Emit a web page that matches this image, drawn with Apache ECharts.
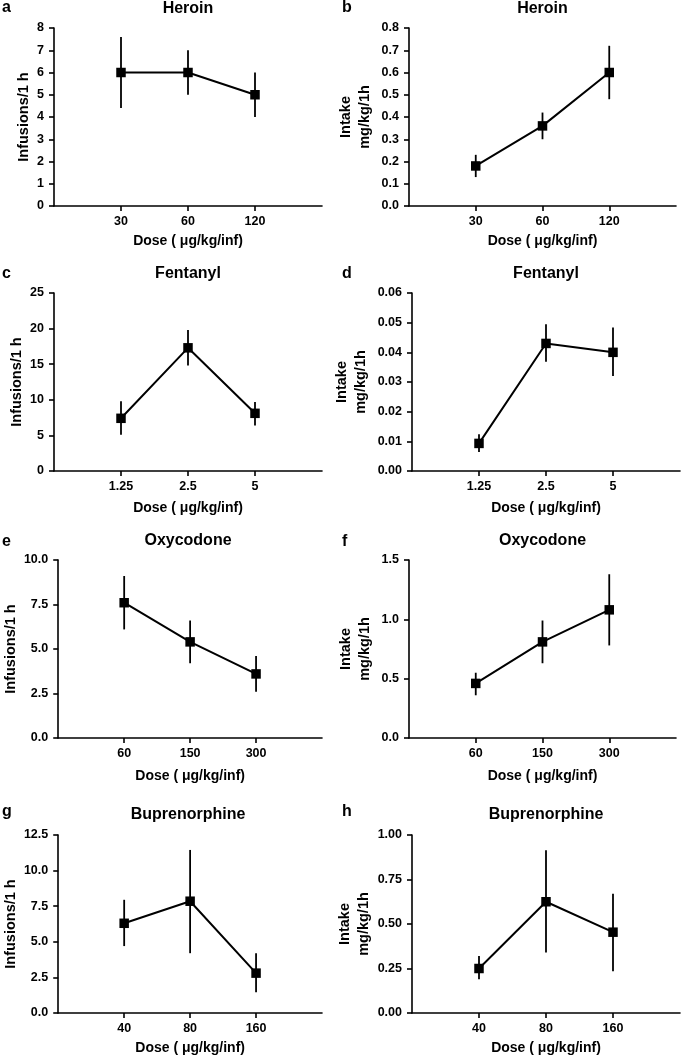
<!DOCTYPE html>
<html>
<head>
<meta charset="utf-8">
<script src="https://cdn.jsdelivr.net/npm/echarts@6/dist/echarts.min.js"></script>
<style>
html,body{margin:0;padding:0;background:#fff;}
#chart{width:683px;height:1061px;}
</style>
</head>
<body>
<div id="chart"></div>
<script>
// ---- Data ----
const heroinDoses = ['30', '60', '120'];
const fentanylDoses = ['1.25', '2.5', '5'];
const oxycodoneDoses = ['60', '150', '300'];
const buprenorphineDoses = ['40', '80', '160'];

const heroinInf = [6.0, 6.0, 5.0];
const heroinInfLo = [4.4, 5.0, 4.0];
const heroinInfHi = [7.6, 7.0, 6.0];

const heroinIntake = [0.18, 0.36, 0.60];
const heroinIntakeLo = [0.13, 0.30, 0.48];
const heroinIntakeHi = [0.23, 0.42, 0.72];

const fentanylInf = [7.4, 17.3, 8.1];
const fentanylInfLo = [5.1, 14.8, 6.4];
const fentanylInfHi = [9.8, 19.8, 9.7];

const fentanylIntake = [0.0093, 0.043, 0.040];
const fentanylIntakeLo = [0.0064, 0.0368, 0.032];
const fentanylIntakeHi = [0.0124, 0.0495, 0.0484];

const oxycodoneInf = [7.6, 5.4, 3.6];
const oxycodoneInfLo = [6.1, 4.2, 2.6];
const oxycodoneInfHi = [9.1, 6.6, 4.6];

const oxycodoneIntake = [0.46, 0.81, 1.08];
const oxycodoneIntakeLo = [0.36, 0.63, 0.78];
const oxycodoneIntakeHi = [0.55, 0.99, 1.38];

const buprenorphineInf = [6.3, 7.85, 2.8];
const buprenorphineInfLo = [4.7, 4.2, 1.45];
const buprenorphineInfHi = [7.95, 11.45, 4.2];

const buprenorphineIntake = [0.25, 0.625, 0.454];
const buprenorphineIntakeLo = [0.19, 0.34, 0.235];
const buprenorphineIntakeHi = [0.32, 0.915, 0.67];

const titles = ['Heroin', 'Heroin', 'Fentanyl', 'Fentanyl', 'Oxycodone', 'Oxycodone', 'Buprenorphine', 'Buprenorphine'];
const letters = ['a', 'b', 'c', 'd', 'e', 'f', 'g', 'h'];
const yNames = ['Infusions/1 h', 'Intake\nmg/kg/1h'];
const xName = 'Dose ( \u03bcg/kg/inf)';

// ---- Panel setup ----
const FONT = '"Liberation Sans", Arial, sans-serif';
const panels = [
  {doses: heroinDoses, v: heroinInf, lo: heroinInfLo, hi: heroinInfHi, min: 0, max: 8, step: 1, dec: 0},
  {doses: heroinDoses, v: heroinIntake, lo: heroinIntakeLo, hi: heroinIntakeHi, min: 0, max: 0.8, step: 0.1, dec: 1},
  {doses: fentanylDoses, v: fentanylInf, lo: fentanylInfLo, hi: fentanylInfHi, min: 0, max: 25, step: 5, dec: 0},
  {doses: fentanylDoses, v: fentanylIntake, lo: fentanylIntakeLo, hi: fentanylIntakeHi, min: 0, max: 0.06, step: 0.01, dec: 2},
  {doses: oxycodoneDoses, v: oxycodoneInf, lo: oxycodoneInfLo, hi: oxycodoneInfHi, min: 0, max: 10, step: 2.5, dec: 1},
  {doses: oxycodoneDoses, v: oxycodoneIntake, lo: oxycodoneIntakeLo, hi: oxycodoneIntakeHi, min: 0, max: 1.5, step: 0.5, dec: 1},
  {doses: buprenorphineDoses, v: buprenorphineInf, lo: buprenorphineInfLo, hi: buprenorphineInfHi, min: 0, max: 12.5, step: 2.5, dec: 1},
  {doses: buprenorphineDoses, v: buprenorphineIntake, lo: buprenorphineIntakeLo, hi: buprenorphineIntakeHi, min: 0, max: 1.0, step: 0.25, dec: 2}
];

// layout
const rowTop = [28, 293, 560, 835];
const plotH = 178;
const colLeft = [[54, 409], [54, 412], [54, 409], [54, 412]];
const yNameGap = [19, 35, 21, 42, 27, 35, 32, 38];
const xNameGap = [28, 30, 31, 28];
const titleY = [9, 274, 541, 815];
const letterY = [8, 274, 542, 812];

const grids = [], xAxes = [], yAxes = [], series = [], graphics = [];

panels.forEach((p, i) => {
  const row = Math.floor(i / 2), col = i % 2;
  const left = colLeft[row][col];
  const w = col === 0 ? 268 : (left === 412 ? 268 : 267);
  grids.push({left: left, top: rowTop[row], width: w, height: plotH});
  xAxes.push({
    type: 'category', gridIndex: i, boundaryGap: false,
    data: [''].concat(p.doses).concat(['']),
    axisLine: {lineStyle: {color: '#000', width: 1.6}},
    axisTick: {show: true, length: 5, lineStyle: {color: '#000', width: 1.6},
      interval: function (idx) { return idx >= 1 && idx <= 3; }},
    axisLabel: {color: '#000', fontFamily: FONT, fontWeight: 'bold', fontSize: 12.5, margin: 9, interval: 0},
    splitLine: {show: false},
    name: xName, nameLocation: 'middle', nameGap: xNameGap[row],
    nameTextStyle: {color: '#000', fontFamily: FONT, fontWeight: 'bold', fontSize: 14}
  });
  yAxes.push({
    type: 'value', gridIndex: i, min: p.min, max: p.max, interval: p.step,
    axisLine: {show: true, lineStyle: {color: '#000', width: 1.6}},
    axisTick: {show: true, length: 5, lineStyle: {color: '#000', width: 1.6}},
    axisLabel: {color: '#000', fontFamily: FONT, fontWeight: 'bold', fontSize: 12.5, margin: 10,
      formatter: function (val) { return Number(val).toFixed(p.dec); }},
    splitLine: {show: false},
    name: yNames[col], nameLocation: 'middle', nameGap: yNameGap[i], nameRotate: 90,
    nameTextStyle: {color: '#000', fontFamily: FONT, fontWeight: 'bold', fontSize: 14.5, lineHeight: 19, align: 'center'}
  });
  // error bars (mean ± SEM)
  series.push({
    type: 'custom', xAxisIndex: i, yAxisIndex: i, silent: true, z: 2,
    data: p.doses.map((d, k) => [k + 1, p.lo[k], p.hi[k]]),
    renderItem: function (params, api) {
      const a = api.coord([api.value(0), api.value(1)]);
      const b = api.coord([api.value(0), api.value(2)]);
      return {type: 'line', shape: {x1: a[0], y1: a[1], x2: b[0], y2: b[1]},
        style: {stroke: '#000', lineWidth: 1.8}};
    }
  });
  // mean line
  series.push({
    type: 'line', xAxisIndex: i, yAxisIndex: i, z: 3,
    data: ['-'].concat(p.v).concat(['-']),
    symbol: 'rect', symbolSize: 9.5, showSymbol: true,
    lineStyle: {color: '#000', width: 2},
    itemStyle: {color: '#000'},
    animation: false, silent: true
  });
  graphics.push({
    type: 'text', x: left + w / 2, y: titleY[row],
    style: {text: titles[i], fill: '#000', font: 'bold 16px ' + FONT, textAlign: 'center', textVerticalAlign: 'middle'}
  });
  graphics.push({
    type: 'text', x: col === 0 ? 2 : 342, y: letterY[row],
    style: {text: letters[i], fill: '#000', font: 'bold 16px ' + FONT, textAlign: 'left', textVerticalAlign: 'middle'}
  });
});

const chart = echarts.init(document.getElementById('chart'), null, {renderer: 'canvas'});
chart.setOption({
  animation: false,
  backgroundColor: '#fff',
  grid: grids,
  xAxis: xAxes,
  yAxis: yAxes,
  series: series,
  graphic: graphics
});
</script>
</body>
</html>
